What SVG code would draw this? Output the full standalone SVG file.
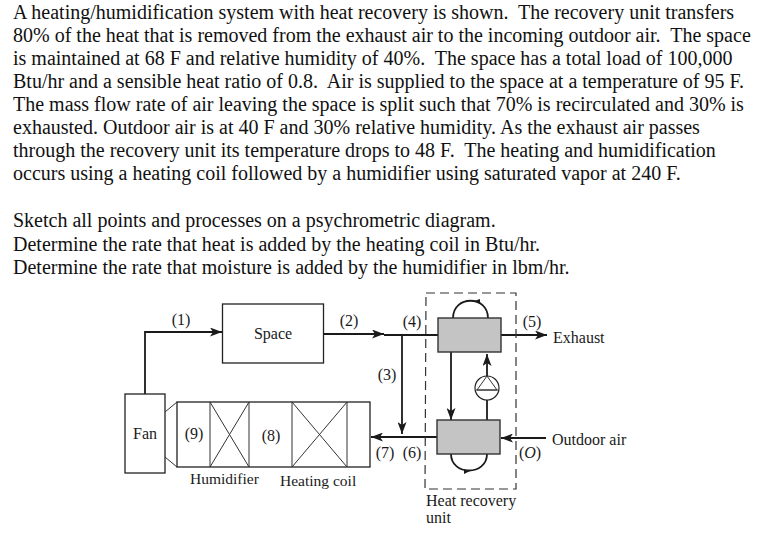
<svg xmlns="http://www.w3.org/2000/svg" width="772" height="538" viewBox="0 0 772 538">
<style>
text{font-family:"Liberation Serif","Times New Roman",serif;fill:#1a1a1a}
.p{font-size:20px;fill:#111;white-space:pre}
.l{font-size:16px}
.s{font-size:15.500px}
.b{fill:#fff;stroke:#222;stroke-width:1.3}
.h{fill:#c4c4c4;stroke:#333;stroke-width:1.4}
.c{fill:none;stroke:#1a1a1a;stroke-width:1.8}
.t{fill:none;stroke:#333;stroke-width:1}
.d{fill:none;stroke:#333;stroke-width:1.2;stroke-dasharray:9 5}
</style>
<defs>
<marker id="a" markerWidth="13" markerHeight="9" refX="12" refY="4.500" orient="auto" markerUnits="userSpaceOnUse"><path d="M0 0L12 4.500L0 9L3 4.500Z" fill="#1a1a1a"/></marker>
</defs>
<g id="problem">
<text class="p" x="13" y="18.500">A heating/humidification system with heat recovery is shown.  The recovery unit transfers</text>
<text class="p" x="13" y="41.500">80% of the heat that is removed from the exhaust air to the incoming outdoor air.  The space</text>
<text class="p" x="13" y="64.500">is maintained at 68 F and relative humidity of 40%.  The space has a total load of 100,000</text>
<text class="p" x="13" y="87.500">Btu/hr and a sensible heat ratio of 0.8.  Air is supplied to the space at a temperature of 95 F.</text>
<text class="p" x="13" y="110.500">The mass flow rate of air leaving the space is split such that 70% is recirculated and 30% is</text>
<text class="p" x="13" y="133.500">exhausted. Outdoor air is at 40 F and 30% relative humidity. As the exhaust air passes</text>
<text class="p" x="13" y="156.500">through the recovery unit its temperature drops to 48 F.  The heating and humidification</text>
<text class="p" x="13" y="179.500">occurs using a heating coil followed by a humidifier using saturated vapor at 240 F.</text>
<text class="p" x="13" y="226.500">Sketch all points and processes on a psychrometric diagram.</text>
<text class="p" x="13" y="250.500">Determine the rate that heat is added by the heating coil in Btu/hr.</text>
<text class="p" x="13" y="273.500">Determine the rate that moisture is added by the humidifier in lbm/hr.</text>
</g>
<g id="connectors">
<path class="c" d="M145 394V332H222" marker-end="url(#a)"/>
<path class="c" d="M324 334H384" marker-end="url(#a)"/>
<path class="c" d="M384 335H438"/>
<path class="c" d="M402 335V434" marker-end="url(#a)"/>
<path class="c" d="M437 437H371" marker-end="url(#a)"/>
<path class="c" d="M501 335H547" marker-end="url(#a)"/>
<path class="c" d="M546 438H501" marker-end="url(#a)"/>
<path class="c" d="M451 352V420" marker-end="url(#a)"/>
<path class="c" d="M487 420V354" marker-end="url(#a)"/>
<path class="c" d="M453 318C453 295 488 295 488 318"/>
<path class="c" d="M451 454C451 476 487 476 487 454"/>
<path d="M480 299L474 301L480 304Z" fill="#1a1a1a"/>
<path d="M464 469L470 471L464 474Z" fill="#1a1a1a"/>
</g>
<g id="heat-recovery-boundary">
<path class="d" d="M426 293H516V489H425Z"/>
</g>
<g id="space">
<rect class="b" x="222.500" y="304" width="101" height="59"/>
<text class="l" x="273" y="339" text-anchor="middle">Space</text>
</g>
<g id="fan">
<rect class="b" x="125" y="394" width="40" height="79"/>
<text class="l" x="145" y="439" text-anchor="middle">Fan</text>
</g>
<g id="duct">
<path class="t" d="M165 412L177 402M165 457L177 467"/>
<rect class="b" x="177" y="402" width="193" height="65"/>
<path class="t" d="M210 402V467M249 402V467M292 402V467M347 402V467"/>
<path class="t" d="M210 402L249 467M249 402L210 467M292 402L347 467M347 402L292 467"/>
</g>
<g id="upper-exchanger"><rect class="h" x="438" y="318" width="63" height="34"/></g>
<g id="lower-exchanger"><rect class="h" x="437" y="420" width="63" height="34"/></g>
<g id="pump">
<circle cx="487" cy="388" r="12" fill="#fff" stroke="#222" stroke-width="1.2"/>
<path class="t" d="M487 376L477 390H497ZM476 390H498"/>
</g>
<g id="labels">
<text class="l" x="181" y="325" text-anchor="middle">(1)</text>
<text class="l" x="349" y="326" text-anchor="middle">(2)</text>
<text class="l" x="412" y="327" text-anchor="middle">(4)</text>
<text class="l" x="387" y="380" text-anchor="middle">(3)</text>
<text class="l" x="532" y="327" text-anchor="middle">(5)</text>
<text class="l" x="194" y="439" text-anchor="middle">(9)</text>
<text class="l" x="271" y="441" text-anchor="middle">(8)</text>
<text class="l" x="385" y="458" text-anchor="middle">(7)</text>
<text class="l" x="412" y="458" text-anchor="middle">(6)</text>
<text class="l" x="530" y="458" text-anchor="middle">(<tspan font-style="italic">O</tspan>)</text>
<text class="l" x="553" y="342.500">Exhaust</text>
<text class="l" x="552" y="444.500">Outdoor air</text>
<text class="s" x="190" y="484">Humidifier</text>
<text class="s" x="280" y="486">Heating coil</text>
<text class="l" x="426" y="506">Heat recovery</text>
<text class="l" x="426" y="523">unit</text>
</g>
</svg>
